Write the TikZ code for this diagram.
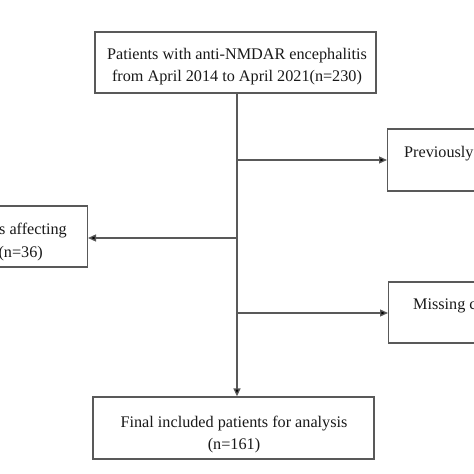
\documentclass[tikz,border=0pt]{standalone}
\usepackage{fontspec}
\setmainfont{Liberation Serif}
\usetikzlibrary{arrows.meta}
\begin{document}
\begin{tikzpicture}[x=1pt,y=1pt,
  box/.style={draw=black!65, line width=1.3pt, rectangle, inner sep=0pt},
  txt/.style={font=\fontsize{16.2}{22}\selectfont, inner sep=0pt, align=center, text=black!90},
  link/.style={draw=black!65, line width=1.3pt},
  arr/.style={link, -{Triangle[length=8pt,width=7pt,fill=black]}}]
\useasboundingbox (0,0) rectangle (474,-474);
\clip (0,0) rectangle (474,-474);
\fill[white] (0,0) rectangle (474,-474);
% boxes
\node[box, minimum width=281pt, minimum height=61pt] (top) at (235.5,-62.5) {};
\node[txt] (toptxt) at (237,-67) {Patients with anti-NMDAR encephalitis\\from April 2014 to April 2021(n=230)};
\node[box, minimum width=200pt, minimum height=62pt, anchor=west] (prev) at (387,-160) {};
\node[txt, anchor=base west] (prevtxt) at (404,-157) {Previously};
\node[box, minimum width=200pt, minimum height=61pt, anchor=east] (left) at (88,-236.5) {};
\node[txt, anchor=base east] (lefttxt1) at (67,-234) {s affecting};
\node[txt, anchor=base east] (lefttxt2) at (43,-257) {(n=36)};
\node[box, minimum width=200pt, minimum height=61pt, anchor=west] (miss) at (388,-312.5) {};
\node[txt, anchor=base west] (misstxt) at (413,-309) {Missing c};
\node[box, minimum width=281pt, minimum height=62pt] (final) at (233.5,-428) {};
\node[txt] (finaltxt) at (234,-434.5) {Final included patients for analysis\\(n=161)};
% trunk
\coordinate (b1) at (237,-160);
\coordinate (b2) at (237,-238);
\coordinate (b3) at (237,-313);
\draw[arr] (top.south -| b1) -- (final.north -| b1);
\draw[arr] (b1) -- (prev.west);
\draw[arr] (b2) -- (left.east |- b2);
\draw[arr] (b3) -- (miss.west |- b3);
\end{tikzpicture}
\end{document}
